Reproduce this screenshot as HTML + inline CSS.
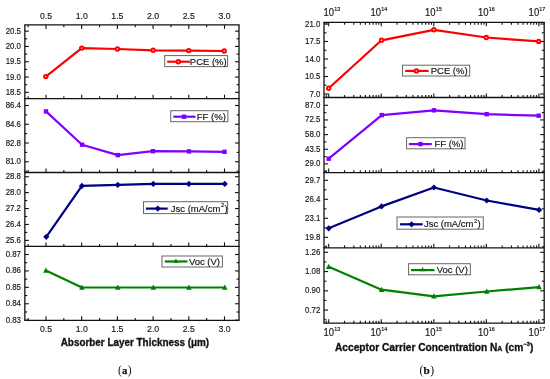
<!DOCTYPE html>
<html><head><meta charset="utf-8"><title>Figure</title>
<style>
html,body{margin:0;padding:0;background:#fff;}
body{width:550px;height:379px;overflow:hidden;}
svg{display:block;filter:blur(0.3px);}
text{stroke:#111;stroke-width:0.15px;}
.serif{stroke:none;}
.ttl{stroke-width:0.3px;}
.serif tspan.b{stroke:#111;stroke-width:0.25px;}
</style></head>
<body>
<svg width="550" height="379" viewBox="0 0 550 379">
<rect width="550" height="379" fill="#fff"/>
<line x1="24.20" y1="24.90" x2="239.65" y2="24.90" stroke="#111" stroke-width="1.3"/>
<line x1="24.20" y1="98.70" x2="239.65" y2="98.70" stroke="#111" stroke-width="1.3"/>
<line x1="24.20" y1="172.50" x2="239.65" y2="172.50" stroke="#111" stroke-width="1.3"/>
<line x1="24.20" y1="246.40" x2="239.65" y2="246.40" stroke="#111" stroke-width="1.3"/>
<line x1="24.20" y1="320.30" x2="239.65" y2="320.30" stroke="#111" stroke-width="1.3"/>
<line x1="24.85" y1="24.90" x2="24.85" y2="320.30" stroke="#111" stroke-width="1.3"/>
<line x1="239.00" y1="24.90" x2="239.00" y2="320.30" stroke="#111" stroke-width="1.3"/>
<line x1="46.00" y1="24.90" x2="46.00" y2="28.90" stroke="#111" stroke-width="1.1"/>
<line x1="46.00" y1="98.70" x2="46.00" y2="94.70" stroke="#111" stroke-width="1.1"/>
<line x1="46.00" y1="172.50" x2="46.00" y2="168.50" stroke="#111" stroke-width="1.1"/>
<line x1="46.00" y1="246.40" x2="46.00" y2="242.40" stroke="#111" stroke-width="1.1"/>
<line x1="46.00" y1="320.30" x2="46.00" y2="316.30" stroke="#111" stroke-width="1.1"/>
<line x1="81.70" y1="24.90" x2="81.70" y2="28.90" stroke="#111" stroke-width="1.1"/>
<line x1="81.70" y1="98.70" x2="81.70" y2="94.70" stroke="#111" stroke-width="1.1"/>
<line x1="81.70" y1="172.50" x2="81.70" y2="168.50" stroke="#111" stroke-width="1.1"/>
<line x1="81.70" y1="246.40" x2="81.70" y2="242.40" stroke="#111" stroke-width="1.1"/>
<line x1="81.70" y1="320.30" x2="81.70" y2="316.30" stroke="#111" stroke-width="1.1"/>
<line x1="117.40" y1="24.90" x2="117.40" y2="28.90" stroke="#111" stroke-width="1.1"/>
<line x1="117.40" y1="98.70" x2="117.40" y2="94.70" stroke="#111" stroke-width="1.1"/>
<line x1="117.40" y1="172.50" x2="117.40" y2="168.50" stroke="#111" stroke-width="1.1"/>
<line x1="117.40" y1="246.40" x2="117.40" y2="242.40" stroke="#111" stroke-width="1.1"/>
<line x1="117.40" y1="320.30" x2="117.40" y2="316.30" stroke="#111" stroke-width="1.1"/>
<line x1="153.10" y1="24.90" x2="153.10" y2="28.90" stroke="#111" stroke-width="1.1"/>
<line x1="153.10" y1="98.70" x2="153.10" y2="94.70" stroke="#111" stroke-width="1.1"/>
<line x1="153.10" y1="172.50" x2="153.10" y2="168.50" stroke="#111" stroke-width="1.1"/>
<line x1="153.10" y1="246.40" x2="153.10" y2="242.40" stroke="#111" stroke-width="1.1"/>
<line x1="153.10" y1="320.30" x2="153.10" y2="316.30" stroke="#111" stroke-width="1.1"/>
<line x1="188.80" y1="24.90" x2="188.80" y2="28.90" stroke="#111" stroke-width="1.1"/>
<line x1="188.80" y1="98.70" x2="188.80" y2="94.70" stroke="#111" stroke-width="1.1"/>
<line x1="188.80" y1="172.50" x2="188.80" y2="168.50" stroke="#111" stroke-width="1.1"/>
<line x1="188.80" y1="246.40" x2="188.80" y2="242.40" stroke="#111" stroke-width="1.1"/>
<line x1="188.80" y1="320.30" x2="188.80" y2="316.30" stroke="#111" stroke-width="1.1"/>
<line x1="224.50" y1="24.90" x2="224.50" y2="28.90" stroke="#111" stroke-width="1.1"/>
<line x1="224.50" y1="98.70" x2="224.50" y2="94.70" stroke="#111" stroke-width="1.1"/>
<line x1="224.50" y1="172.50" x2="224.50" y2="168.50" stroke="#111" stroke-width="1.1"/>
<line x1="224.50" y1="246.40" x2="224.50" y2="242.40" stroke="#111" stroke-width="1.1"/>
<line x1="224.50" y1="320.30" x2="224.50" y2="316.30" stroke="#111" stroke-width="1.1"/>
<line x1="28.15" y1="24.90" x2="28.15" y2="27.30" stroke="#111" stroke-width="1.1"/>
<line x1="28.15" y1="98.70" x2="28.15" y2="96.30" stroke="#111" stroke-width="1.1"/>
<line x1="28.15" y1="172.50" x2="28.15" y2="170.10" stroke="#111" stroke-width="1.1"/>
<line x1="28.15" y1="246.40" x2="28.15" y2="244.00" stroke="#111" stroke-width="1.1"/>
<line x1="28.15" y1="320.30" x2="28.15" y2="317.90" stroke="#111" stroke-width="1.1"/>
<line x1="63.85" y1="24.90" x2="63.85" y2="27.30" stroke="#111" stroke-width="1.1"/>
<line x1="63.85" y1="98.70" x2="63.85" y2="96.30" stroke="#111" stroke-width="1.1"/>
<line x1="63.85" y1="172.50" x2="63.85" y2="170.10" stroke="#111" stroke-width="1.1"/>
<line x1="63.85" y1="246.40" x2="63.85" y2="244.00" stroke="#111" stroke-width="1.1"/>
<line x1="63.85" y1="320.30" x2="63.85" y2="317.90" stroke="#111" stroke-width="1.1"/>
<line x1="99.55" y1="24.90" x2="99.55" y2="27.30" stroke="#111" stroke-width="1.1"/>
<line x1="99.55" y1="98.70" x2="99.55" y2="96.30" stroke="#111" stroke-width="1.1"/>
<line x1="99.55" y1="172.50" x2="99.55" y2="170.10" stroke="#111" stroke-width="1.1"/>
<line x1="99.55" y1="246.40" x2="99.55" y2="244.00" stroke="#111" stroke-width="1.1"/>
<line x1="99.55" y1="320.30" x2="99.55" y2="317.90" stroke="#111" stroke-width="1.1"/>
<line x1="135.25" y1="24.90" x2="135.25" y2="27.30" stroke="#111" stroke-width="1.1"/>
<line x1="135.25" y1="98.70" x2="135.25" y2="96.30" stroke="#111" stroke-width="1.1"/>
<line x1="135.25" y1="172.50" x2="135.25" y2="170.10" stroke="#111" stroke-width="1.1"/>
<line x1="135.25" y1="246.40" x2="135.25" y2="244.00" stroke="#111" stroke-width="1.1"/>
<line x1="135.25" y1="320.30" x2="135.25" y2="317.90" stroke="#111" stroke-width="1.1"/>
<line x1="170.95" y1="24.90" x2="170.95" y2="27.30" stroke="#111" stroke-width="1.1"/>
<line x1="170.95" y1="98.70" x2="170.95" y2="96.30" stroke="#111" stroke-width="1.1"/>
<line x1="170.95" y1="172.50" x2="170.95" y2="170.10" stroke="#111" stroke-width="1.1"/>
<line x1="170.95" y1="246.40" x2="170.95" y2="244.00" stroke="#111" stroke-width="1.1"/>
<line x1="170.95" y1="320.30" x2="170.95" y2="317.90" stroke="#111" stroke-width="1.1"/>
<line x1="206.65" y1="24.90" x2="206.65" y2="27.30" stroke="#111" stroke-width="1.1"/>
<line x1="206.65" y1="98.70" x2="206.65" y2="96.30" stroke="#111" stroke-width="1.1"/>
<line x1="206.65" y1="172.50" x2="206.65" y2="170.10" stroke="#111" stroke-width="1.1"/>
<line x1="206.65" y1="246.40" x2="206.65" y2="244.00" stroke="#111" stroke-width="1.1"/>
<line x1="206.65" y1="320.30" x2="206.65" y2="317.90" stroke="#111" stroke-width="1.1"/>
<text x="46.00" y="19.10" font-size="8.7" text-anchor="middle" fill="#1a1a1a" font-weight="normal" font-family="'Liberation Sans', Arial, sans-serif">0.5</text>
<text x="46.00" y="331.60" font-size="8.7" text-anchor="middle" fill="#1a1a1a" font-weight="normal" font-family="'Liberation Sans', Arial, sans-serif">0.5</text>
<text x="81.70" y="19.10" font-size="8.7" text-anchor="middle" fill="#1a1a1a" font-weight="normal" font-family="'Liberation Sans', Arial, sans-serif">1.0</text>
<text x="81.70" y="331.60" font-size="8.7" text-anchor="middle" fill="#1a1a1a" font-weight="normal" font-family="'Liberation Sans', Arial, sans-serif">1.0</text>
<text x="117.40" y="19.10" font-size="8.7" text-anchor="middle" fill="#1a1a1a" font-weight="normal" font-family="'Liberation Sans', Arial, sans-serif">1.5</text>
<text x="117.40" y="331.60" font-size="8.7" text-anchor="middle" fill="#1a1a1a" font-weight="normal" font-family="'Liberation Sans', Arial, sans-serif">1.5</text>
<text x="153.10" y="19.10" font-size="8.7" text-anchor="middle" fill="#1a1a1a" font-weight="normal" font-family="'Liberation Sans', Arial, sans-serif">2.0</text>
<text x="153.10" y="331.60" font-size="8.7" text-anchor="middle" fill="#1a1a1a" font-weight="normal" font-family="'Liberation Sans', Arial, sans-serif">2.0</text>
<text x="188.80" y="19.10" font-size="8.7" text-anchor="middle" fill="#1a1a1a" font-weight="normal" font-family="'Liberation Sans', Arial, sans-serif">2.5</text>
<text x="188.80" y="331.60" font-size="8.7" text-anchor="middle" fill="#1a1a1a" font-weight="normal" font-family="'Liberation Sans', Arial, sans-serif">2.5</text>
<text x="224.50" y="19.10" font-size="8.7" text-anchor="middle" fill="#1a1a1a" font-weight="normal" font-family="'Liberation Sans', Arial, sans-serif">3.0</text>
<text x="224.50" y="331.60" font-size="8.7" text-anchor="middle" fill="#1a1a1a" font-weight="normal" font-family="'Liberation Sans', Arial, sans-serif">3.0</text>
<line x1="24.85" y1="92.35" x2="28.85" y2="92.35" stroke="#111" stroke-width="1.1"/>
<line x1="239.00" y1="92.35" x2="235.00" y2="92.35" stroke="#111" stroke-width="1.1"/>
<text transform="translate(21.00,94.90) scale(1,1.12)" font-size="7.9" text-anchor="end" fill="#1a1a1a" font-family="'Liberation Sans', Arial, sans-serif">18.5</text>
<line x1="24.85" y1="77.05" x2="28.85" y2="77.05" stroke="#111" stroke-width="1.1"/>
<line x1="239.00" y1="77.05" x2="235.00" y2="77.05" stroke="#111" stroke-width="1.1"/>
<text transform="translate(21.00,79.60) scale(1,1.12)" font-size="7.9" text-anchor="end" fill="#1a1a1a" font-family="'Liberation Sans', Arial, sans-serif">19.0</text>
<line x1="24.85" y1="61.75" x2="28.85" y2="61.75" stroke="#111" stroke-width="1.1"/>
<line x1="239.00" y1="61.75" x2="235.00" y2="61.75" stroke="#111" stroke-width="1.1"/>
<text transform="translate(21.00,64.30) scale(1,1.12)" font-size="7.9" text-anchor="end" fill="#1a1a1a" font-family="'Liberation Sans', Arial, sans-serif">19.5</text>
<line x1="24.85" y1="46.45" x2="28.85" y2="46.45" stroke="#111" stroke-width="1.1"/>
<line x1="239.00" y1="46.45" x2="235.00" y2="46.45" stroke="#111" stroke-width="1.1"/>
<text transform="translate(21.00,49.00) scale(1,1.12)" font-size="7.9" text-anchor="end" fill="#1a1a1a" font-family="'Liberation Sans', Arial, sans-serif">20.0</text>
<line x1="24.85" y1="31.15" x2="28.85" y2="31.15" stroke="#111" stroke-width="1.1"/>
<line x1="239.00" y1="31.15" x2="235.00" y2="31.15" stroke="#111" stroke-width="1.1"/>
<text transform="translate(21.00,33.70) scale(1,1.12)" font-size="7.9" text-anchor="end" fill="#1a1a1a" font-family="'Liberation Sans', Arial, sans-serif">20.5</text>
<line x1="24.85" y1="84.70" x2="27.25" y2="84.70" stroke="#111" stroke-width="1.1"/>
<line x1="239.00" y1="84.70" x2="236.60" y2="84.70" stroke="#111" stroke-width="1.1"/>
<line x1="24.85" y1="69.40" x2="27.25" y2="69.40" stroke="#111" stroke-width="1.1"/>
<line x1="239.00" y1="69.40" x2="236.60" y2="69.40" stroke="#111" stroke-width="1.1"/>
<line x1="24.85" y1="54.10" x2="27.25" y2="54.10" stroke="#111" stroke-width="1.1"/>
<line x1="239.00" y1="54.10" x2="236.60" y2="54.10" stroke="#111" stroke-width="1.1"/>
<line x1="24.85" y1="38.80" x2="27.25" y2="38.80" stroke="#111" stroke-width="1.1"/>
<line x1="239.00" y1="38.80" x2="236.60" y2="38.80" stroke="#111" stroke-width="1.1"/>
<line x1="24.85" y1="161.77" x2="28.85" y2="161.77" stroke="#111" stroke-width="1.1"/>
<line x1="239.00" y1="161.77" x2="235.00" y2="161.77" stroke="#111" stroke-width="1.1"/>
<text transform="translate(21.00,164.32) scale(1,1.12)" font-size="7.9" text-anchor="end" fill="#1a1a1a" font-family="'Liberation Sans', Arial, sans-serif">81.0</text>
<line x1="24.85" y1="143.01" x2="28.85" y2="143.01" stroke="#111" stroke-width="1.1"/>
<line x1="239.00" y1="143.01" x2="235.00" y2="143.01" stroke="#111" stroke-width="1.1"/>
<text transform="translate(21.00,145.56) scale(1,1.12)" font-size="7.9" text-anchor="end" fill="#1a1a1a" font-family="'Liberation Sans', Arial, sans-serif">82.8</text>
<line x1="24.85" y1="124.26" x2="28.85" y2="124.26" stroke="#111" stroke-width="1.1"/>
<line x1="239.00" y1="124.26" x2="235.00" y2="124.26" stroke="#111" stroke-width="1.1"/>
<text transform="translate(21.00,126.81) scale(1,1.12)" font-size="7.9" text-anchor="end" fill="#1a1a1a" font-family="'Liberation Sans', Arial, sans-serif">84.6</text>
<line x1="24.85" y1="105.50" x2="28.85" y2="105.50" stroke="#111" stroke-width="1.1"/>
<line x1="239.00" y1="105.50" x2="235.00" y2="105.50" stroke="#111" stroke-width="1.1"/>
<text transform="translate(21.00,108.05) scale(1,1.12)" font-size="7.9" text-anchor="end" fill="#1a1a1a" font-family="'Liberation Sans', Arial, sans-serif">86.4</text>
<line x1="24.85" y1="171.15" x2="27.25" y2="171.15" stroke="#111" stroke-width="1.1"/>
<line x1="239.00" y1="171.15" x2="236.60" y2="171.15" stroke="#111" stroke-width="1.1"/>
<line x1="24.85" y1="152.39" x2="27.25" y2="152.39" stroke="#111" stroke-width="1.1"/>
<line x1="239.00" y1="152.39" x2="236.60" y2="152.39" stroke="#111" stroke-width="1.1"/>
<line x1="24.85" y1="133.63" x2="27.25" y2="133.63" stroke="#111" stroke-width="1.1"/>
<line x1="239.00" y1="133.63" x2="236.60" y2="133.63" stroke="#111" stroke-width="1.1"/>
<line x1="24.85" y1="114.88" x2="27.25" y2="114.88" stroke="#111" stroke-width="1.1"/>
<line x1="239.00" y1="114.88" x2="236.60" y2="114.88" stroke="#111" stroke-width="1.1"/>
<line x1="24.85" y1="240.38" x2="28.85" y2="240.38" stroke="#111" stroke-width="1.1"/>
<line x1="239.00" y1="240.38" x2="235.00" y2="240.38" stroke="#111" stroke-width="1.1"/>
<text transform="translate(21.00,242.93) scale(1,1.12)" font-size="7.9" text-anchor="end" fill="#1a1a1a" font-family="'Liberation Sans', Arial, sans-serif">25.6</text>
<line x1="24.85" y1="224.46" x2="28.85" y2="224.46" stroke="#111" stroke-width="1.1"/>
<line x1="239.00" y1="224.46" x2="235.00" y2="224.46" stroke="#111" stroke-width="1.1"/>
<text transform="translate(21.00,227.01) scale(1,1.12)" font-size="7.9" text-anchor="end" fill="#1a1a1a" font-family="'Liberation Sans', Arial, sans-serif">26.4</text>
<line x1="24.85" y1="208.54" x2="28.85" y2="208.54" stroke="#111" stroke-width="1.1"/>
<line x1="239.00" y1="208.54" x2="235.00" y2="208.54" stroke="#111" stroke-width="1.1"/>
<text transform="translate(21.00,211.09) scale(1,1.12)" font-size="7.9" text-anchor="end" fill="#1a1a1a" font-family="'Liberation Sans', Arial, sans-serif">27.2</text>
<line x1="24.85" y1="192.62" x2="28.85" y2="192.62" stroke="#111" stroke-width="1.1"/>
<line x1="239.00" y1="192.62" x2="235.00" y2="192.62" stroke="#111" stroke-width="1.1"/>
<text transform="translate(21.00,195.17) scale(1,1.12)" font-size="7.9" text-anchor="end" fill="#1a1a1a" font-family="'Liberation Sans', Arial, sans-serif">28.0</text>
<line x1="24.85" y1="176.70" x2="28.85" y2="176.70" stroke="#111" stroke-width="1.1"/>
<line x1="239.00" y1="176.70" x2="235.00" y2="176.70" stroke="#111" stroke-width="1.1"/>
<text transform="translate(21.00,179.25) scale(1,1.12)" font-size="7.9" text-anchor="end" fill="#1a1a1a" font-family="'Liberation Sans', Arial, sans-serif">28.8</text>
<line x1="24.85" y1="232.42" x2="27.25" y2="232.42" stroke="#111" stroke-width="1.1"/>
<line x1="239.00" y1="232.42" x2="236.60" y2="232.42" stroke="#111" stroke-width="1.1"/>
<line x1="24.85" y1="216.50" x2="27.25" y2="216.50" stroke="#111" stroke-width="1.1"/>
<line x1="239.00" y1="216.50" x2="236.60" y2="216.50" stroke="#111" stroke-width="1.1"/>
<line x1="24.85" y1="200.58" x2="27.25" y2="200.58" stroke="#111" stroke-width="1.1"/>
<line x1="239.00" y1="200.58" x2="236.60" y2="200.58" stroke="#111" stroke-width="1.1"/>
<line x1="24.85" y1="184.66" x2="27.25" y2="184.66" stroke="#111" stroke-width="1.1"/>
<line x1="239.00" y1="184.66" x2="236.60" y2="184.66" stroke="#111" stroke-width="1.1"/>
<line x1="24.85" y1="320.18" x2="28.85" y2="320.18" stroke="#111" stroke-width="1.1"/>
<line x1="239.00" y1="320.18" x2="235.00" y2="320.18" stroke="#111" stroke-width="1.1"/>
<text transform="translate(21.00,322.73) scale(1,1.12)" font-size="7.9" text-anchor="end" fill="#1a1a1a" font-family="'Liberation Sans', Arial, sans-serif">0.83</text>
<line x1="24.85" y1="303.76" x2="28.85" y2="303.76" stroke="#111" stroke-width="1.1"/>
<line x1="239.00" y1="303.76" x2="235.00" y2="303.76" stroke="#111" stroke-width="1.1"/>
<text transform="translate(21.00,306.31) scale(1,1.12)" font-size="7.9" text-anchor="end" fill="#1a1a1a" font-family="'Liberation Sans', Arial, sans-serif">0.84</text>
<line x1="24.85" y1="287.34" x2="28.85" y2="287.34" stroke="#111" stroke-width="1.1"/>
<line x1="239.00" y1="287.34" x2="235.00" y2="287.34" stroke="#111" stroke-width="1.1"/>
<text transform="translate(21.00,289.89) scale(1,1.12)" font-size="7.9" text-anchor="end" fill="#1a1a1a" font-family="'Liberation Sans', Arial, sans-serif">0.85</text>
<line x1="24.85" y1="270.92" x2="28.85" y2="270.92" stroke="#111" stroke-width="1.1"/>
<line x1="239.00" y1="270.92" x2="235.00" y2="270.92" stroke="#111" stroke-width="1.1"/>
<text transform="translate(21.00,273.47) scale(1,1.12)" font-size="7.9" text-anchor="end" fill="#1a1a1a" font-family="'Liberation Sans', Arial, sans-serif">0.86</text>
<line x1="24.85" y1="254.50" x2="28.85" y2="254.50" stroke="#111" stroke-width="1.1"/>
<line x1="239.00" y1="254.50" x2="235.00" y2="254.50" stroke="#111" stroke-width="1.1"/>
<text transform="translate(21.00,257.05) scale(1,1.12)" font-size="7.9" text-anchor="end" fill="#1a1a1a" font-family="'Liberation Sans', Arial, sans-serif">0.87</text>
<line x1="24.85" y1="311.97" x2="27.25" y2="311.97" stroke="#111" stroke-width="1.1"/>
<line x1="239.00" y1="311.97" x2="236.60" y2="311.97" stroke="#111" stroke-width="1.1"/>
<line x1="24.85" y1="295.55" x2="27.25" y2="295.55" stroke="#111" stroke-width="1.1"/>
<line x1="239.00" y1="295.55" x2="236.60" y2="295.55" stroke="#111" stroke-width="1.1"/>
<line x1="24.85" y1="279.13" x2="27.25" y2="279.13" stroke="#111" stroke-width="1.1"/>
<line x1="239.00" y1="279.13" x2="236.60" y2="279.13" stroke="#111" stroke-width="1.1"/>
<line x1="24.85" y1="262.71" x2="27.25" y2="262.71" stroke="#111" stroke-width="1.1"/>
<line x1="239.00" y1="262.71" x2="236.60" y2="262.71" stroke="#111" stroke-width="1.1"/>
<line x1="323.35" y1="22.30" x2="544.85" y2="22.30" stroke="#111" stroke-width="1.3"/>
<line x1="323.35" y1="97.50" x2="544.85" y2="97.50" stroke="#111" stroke-width="1.3"/>
<line x1="323.35" y1="172.60" x2="544.85" y2="172.60" stroke="#111" stroke-width="1.3"/>
<line x1="323.35" y1="247.80" x2="544.85" y2="247.80" stroke="#111" stroke-width="1.3"/>
<line x1="323.35" y1="323.20" x2="544.85" y2="323.20" stroke="#111" stroke-width="1.3"/>
<line x1="324.00" y1="22.30" x2="324.00" y2="323.20" stroke="#111" stroke-width="1.3"/>
<line x1="544.20" y1="22.30" x2="544.20" y2="323.20" stroke="#111" stroke-width="1.3"/>
<line x1="328.70" y1="22.30" x2="328.70" y2="26.30" stroke="#111" stroke-width="1.1"/>
<line x1="328.70" y1="97.50" x2="328.70" y2="93.50" stroke="#111" stroke-width="1.1"/>
<line x1="328.70" y1="172.60" x2="328.70" y2="168.60" stroke="#111" stroke-width="1.1"/>
<line x1="328.70" y1="247.80" x2="328.70" y2="243.80" stroke="#111" stroke-width="1.1"/>
<line x1="328.70" y1="323.20" x2="328.70" y2="319.20" stroke="#111" stroke-width="1.1"/>
<line x1="381.25" y1="22.30" x2="381.25" y2="26.30" stroke="#111" stroke-width="1.1"/>
<line x1="381.25" y1="97.50" x2="381.25" y2="93.50" stroke="#111" stroke-width="1.1"/>
<line x1="381.25" y1="172.60" x2="381.25" y2="168.60" stroke="#111" stroke-width="1.1"/>
<line x1="381.25" y1="247.80" x2="381.25" y2="243.80" stroke="#111" stroke-width="1.1"/>
<line x1="381.25" y1="323.20" x2="381.25" y2="319.20" stroke="#111" stroke-width="1.1"/>
<line x1="433.80" y1="22.30" x2="433.80" y2="26.30" stroke="#111" stroke-width="1.1"/>
<line x1="433.80" y1="97.50" x2="433.80" y2="93.50" stroke="#111" stroke-width="1.1"/>
<line x1="433.80" y1="172.60" x2="433.80" y2="168.60" stroke="#111" stroke-width="1.1"/>
<line x1="433.80" y1="247.80" x2="433.80" y2="243.80" stroke="#111" stroke-width="1.1"/>
<line x1="433.80" y1="323.20" x2="433.80" y2="319.20" stroke="#111" stroke-width="1.1"/>
<line x1="486.35" y1="22.30" x2="486.35" y2="26.30" stroke="#111" stroke-width="1.1"/>
<line x1="486.35" y1="97.50" x2="486.35" y2="93.50" stroke="#111" stroke-width="1.1"/>
<line x1="486.35" y1="172.60" x2="486.35" y2="168.60" stroke="#111" stroke-width="1.1"/>
<line x1="486.35" y1="247.80" x2="486.35" y2="243.80" stroke="#111" stroke-width="1.1"/>
<line x1="486.35" y1="323.20" x2="486.35" y2="319.20" stroke="#111" stroke-width="1.1"/>
<line x1="538.90" y1="22.30" x2="538.90" y2="26.30" stroke="#111" stroke-width="1.1"/>
<line x1="538.90" y1="97.50" x2="538.90" y2="93.50" stroke="#111" stroke-width="1.1"/>
<line x1="538.90" y1="172.60" x2="538.90" y2="168.60" stroke="#111" stroke-width="1.1"/>
<line x1="538.90" y1="247.80" x2="538.90" y2="243.80" stroke="#111" stroke-width="1.1"/>
<line x1="538.90" y1="323.20" x2="538.90" y2="319.20" stroke="#111" stroke-width="1.1"/>
<line x1="326.30" y1="22.30" x2="326.30" y2="24.70" stroke="#111" stroke-width="1.1"/>
<line x1="326.30" y1="97.50" x2="326.30" y2="95.10" stroke="#111" stroke-width="1.1"/>
<line x1="326.30" y1="172.60" x2="326.30" y2="170.20" stroke="#111" stroke-width="1.1"/>
<line x1="326.30" y1="247.80" x2="326.30" y2="245.40" stroke="#111" stroke-width="1.1"/>
<line x1="326.30" y1="323.20" x2="326.30" y2="320.80" stroke="#111" stroke-width="1.1"/>
<line x1="344.52" y1="22.30" x2="344.52" y2="24.70" stroke="#111" stroke-width="1.1"/>
<line x1="344.52" y1="97.50" x2="344.52" y2="95.10" stroke="#111" stroke-width="1.1"/>
<line x1="344.52" y1="172.60" x2="344.52" y2="170.20" stroke="#111" stroke-width="1.1"/>
<line x1="344.52" y1="247.80" x2="344.52" y2="245.40" stroke="#111" stroke-width="1.1"/>
<line x1="344.52" y1="323.20" x2="344.52" y2="320.80" stroke="#111" stroke-width="1.1"/>
<line x1="353.77" y1="22.30" x2="353.77" y2="24.70" stroke="#111" stroke-width="1.1"/>
<line x1="353.77" y1="97.50" x2="353.77" y2="95.10" stroke="#111" stroke-width="1.1"/>
<line x1="353.77" y1="172.60" x2="353.77" y2="170.20" stroke="#111" stroke-width="1.1"/>
<line x1="353.77" y1="247.80" x2="353.77" y2="245.40" stroke="#111" stroke-width="1.1"/>
<line x1="353.77" y1="323.20" x2="353.77" y2="320.80" stroke="#111" stroke-width="1.1"/>
<line x1="360.34" y1="22.30" x2="360.34" y2="24.70" stroke="#111" stroke-width="1.1"/>
<line x1="360.34" y1="97.50" x2="360.34" y2="95.10" stroke="#111" stroke-width="1.1"/>
<line x1="360.34" y1="172.60" x2="360.34" y2="170.20" stroke="#111" stroke-width="1.1"/>
<line x1="360.34" y1="247.80" x2="360.34" y2="245.40" stroke="#111" stroke-width="1.1"/>
<line x1="360.34" y1="323.20" x2="360.34" y2="320.80" stroke="#111" stroke-width="1.1"/>
<line x1="365.43" y1="22.30" x2="365.43" y2="24.70" stroke="#111" stroke-width="1.1"/>
<line x1="365.43" y1="97.50" x2="365.43" y2="95.10" stroke="#111" stroke-width="1.1"/>
<line x1="365.43" y1="172.60" x2="365.43" y2="170.20" stroke="#111" stroke-width="1.1"/>
<line x1="365.43" y1="247.80" x2="365.43" y2="245.40" stroke="#111" stroke-width="1.1"/>
<line x1="365.43" y1="323.20" x2="365.43" y2="320.80" stroke="#111" stroke-width="1.1"/>
<line x1="369.59" y1="22.30" x2="369.59" y2="24.70" stroke="#111" stroke-width="1.1"/>
<line x1="369.59" y1="97.50" x2="369.59" y2="95.10" stroke="#111" stroke-width="1.1"/>
<line x1="369.59" y1="172.60" x2="369.59" y2="170.20" stroke="#111" stroke-width="1.1"/>
<line x1="369.59" y1="247.80" x2="369.59" y2="245.40" stroke="#111" stroke-width="1.1"/>
<line x1="369.59" y1="323.20" x2="369.59" y2="320.80" stroke="#111" stroke-width="1.1"/>
<line x1="373.11" y1="22.30" x2="373.11" y2="24.70" stroke="#111" stroke-width="1.1"/>
<line x1="373.11" y1="97.50" x2="373.11" y2="95.10" stroke="#111" stroke-width="1.1"/>
<line x1="373.11" y1="172.60" x2="373.11" y2="170.20" stroke="#111" stroke-width="1.1"/>
<line x1="373.11" y1="247.80" x2="373.11" y2="245.40" stroke="#111" stroke-width="1.1"/>
<line x1="373.11" y1="323.20" x2="373.11" y2="320.80" stroke="#111" stroke-width="1.1"/>
<line x1="376.16" y1="22.30" x2="376.16" y2="24.70" stroke="#111" stroke-width="1.1"/>
<line x1="376.16" y1="97.50" x2="376.16" y2="95.10" stroke="#111" stroke-width="1.1"/>
<line x1="376.16" y1="172.60" x2="376.16" y2="170.20" stroke="#111" stroke-width="1.1"/>
<line x1="376.16" y1="247.80" x2="376.16" y2="245.40" stroke="#111" stroke-width="1.1"/>
<line x1="376.16" y1="323.20" x2="376.16" y2="320.80" stroke="#111" stroke-width="1.1"/>
<line x1="378.85" y1="22.30" x2="378.85" y2="24.70" stroke="#111" stroke-width="1.1"/>
<line x1="378.85" y1="97.50" x2="378.85" y2="95.10" stroke="#111" stroke-width="1.1"/>
<line x1="378.85" y1="172.60" x2="378.85" y2="170.20" stroke="#111" stroke-width="1.1"/>
<line x1="378.85" y1="247.80" x2="378.85" y2="245.40" stroke="#111" stroke-width="1.1"/>
<line x1="378.85" y1="323.20" x2="378.85" y2="320.80" stroke="#111" stroke-width="1.1"/>
<line x1="397.07" y1="22.30" x2="397.07" y2="24.70" stroke="#111" stroke-width="1.1"/>
<line x1="397.07" y1="97.50" x2="397.07" y2="95.10" stroke="#111" stroke-width="1.1"/>
<line x1="397.07" y1="172.60" x2="397.07" y2="170.20" stroke="#111" stroke-width="1.1"/>
<line x1="397.07" y1="247.80" x2="397.07" y2="245.40" stroke="#111" stroke-width="1.1"/>
<line x1="397.07" y1="323.20" x2="397.07" y2="320.80" stroke="#111" stroke-width="1.1"/>
<line x1="406.32" y1="22.30" x2="406.32" y2="24.70" stroke="#111" stroke-width="1.1"/>
<line x1="406.32" y1="97.50" x2="406.32" y2="95.10" stroke="#111" stroke-width="1.1"/>
<line x1="406.32" y1="172.60" x2="406.32" y2="170.20" stroke="#111" stroke-width="1.1"/>
<line x1="406.32" y1="247.80" x2="406.32" y2="245.40" stroke="#111" stroke-width="1.1"/>
<line x1="406.32" y1="323.20" x2="406.32" y2="320.80" stroke="#111" stroke-width="1.1"/>
<line x1="412.89" y1="22.30" x2="412.89" y2="24.70" stroke="#111" stroke-width="1.1"/>
<line x1="412.89" y1="97.50" x2="412.89" y2="95.10" stroke="#111" stroke-width="1.1"/>
<line x1="412.89" y1="172.60" x2="412.89" y2="170.20" stroke="#111" stroke-width="1.1"/>
<line x1="412.89" y1="247.80" x2="412.89" y2="245.40" stroke="#111" stroke-width="1.1"/>
<line x1="412.89" y1="323.20" x2="412.89" y2="320.80" stroke="#111" stroke-width="1.1"/>
<line x1="417.98" y1="22.30" x2="417.98" y2="24.70" stroke="#111" stroke-width="1.1"/>
<line x1="417.98" y1="97.50" x2="417.98" y2="95.10" stroke="#111" stroke-width="1.1"/>
<line x1="417.98" y1="172.60" x2="417.98" y2="170.20" stroke="#111" stroke-width="1.1"/>
<line x1="417.98" y1="247.80" x2="417.98" y2="245.40" stroke="#111" stroke-width="1.1"/>
<line x1="417.98" y1="323.20" x2="417.98" y2="320.80" stroke="#111" stroke-width="1.1"/>
<line x1="422.14" y1="22.30" x2="422.14" y2="24.70" stroke="#111" stroke-width="1.1"/>
<line x1="422.14" y1="97.50" x2="422.14" y2="95.10" stroke="#111" stroke-width="1.1"/>
<line x1="422.14" y1="172.60" x2="422.14" y2="170.20" stroke="#111" stroke-width="1.1"/>
<line x1="422.14" y1="247.80" x2="422.14" y2="245.40" stroke="#111" stroke-width="1.1"/>
<line x1="422.14" y1="323.20" x2="422.14" y2="320.80" stroke="#111" stroke-width="1.1"/>
<line x1="425.66" y1="22.30" x2="425.66" y2="24.70" stroke="#111" stroke-width="1.1"/>
<line x1="425.66" y1="97.50" x2="425.66" y2="95.10" stroke="#111" stroke-width="1.1"/>
<line x1="425.66" y1="172.60" x2="425.66" y2="170.20" stroke="#111" stroke-width="1.1"/>
<line x1="425.66" y1="247.80" x2="425.66" y2="245.40" stroke="#111" stroke-width="1.1"/>
<line x1="425.66" y1="323.20" x2="425.66" y2="320.80" stroke="#111" stroke-width="1.1"/>
<line x1="428.71" y1="22.30" x2="428.71" y2="24.70" stroke="#111" stroke-width="1.1"/>
<line x1="428.71" y1="97.50" x2="428.71" y2="95.10" stroke="#111" stroke-width="1.1"/>
<line x1="428.71" y1="172.60" x2="428.71" y2="170.20" stroke="#111" stroke-width="1.1"/>
<line x1="428.71" y1="247.80" x2="428.71" y2="245.40" stroke="#111" stroke-width="1.1"/>
<line x1="428.71" y1="323.20" x2="428.71" y2="320.80" stroke="#111" stroke-width="1.1"/>
<line x1="431.40" y1="22.30" x2="431.40" y2="24.70" stroke="#111" stroke-width="1.1"/>
<line x1="431.40" y1="97.50" x2="431.40" y2="95.10" stroke="#111" stroke-width="1.1"/>
<line x1="431.40" y1="172.60" x2="431.40" y2="170.20" stroke="#111" stroke-width="1.1"/>
<line x1="431.40" y1="247.80" x2="431.40" y2="245.40" stroke="#111" stroke-width="1.1"/>
<line x1="431.40" y1="323.20" x2="431.40" y2="320.80" stroke="#111" stroke-width="1.1"/>
<line x1="449.62" y1="22.30" x2="449.62" y2="24.70" stroke="#111" stroke-width="1.1"/>
<line x1="449.62" y1="97.50" x2="449.62" y2="95.10" stroke="#111" stroke-width="1.1"/>
<line x1="449.62" y1="172.60" x2="449.62" y2="170.20" stroke="#111" stroke-width="1.1"/>
<line x1="449.62" y1="247.80" x2="449.62" y2="245.40" stroke="#111" stroke-width="1.1"/>
<line x1="449.62" y1="323.20" x2="449.62" y2="320.80" stroke="#111" stroke-width="1.1"/>
<line x1="458.87" y1="22.30" x2="458.87" y2="24.70" stroke="#111" stroke-width="1.1"/>
<line x1="458.87" y1="97.50" x2="458.87" y2="95.10" stroke="#111" stroke-width="1.1"/>
<line x1="458.87" y1="172.60" x2="458.87" y2="170.20" stroke="#111" stroke-width="1.1"/>
<line x1="458.87" y1="247.80" x2="458.87" y2="245.40" stroke="#111" stroke-width="1.1"/>
<line x1="458.87" y1="323.20" x2="458.87" y2="320.80" stroke="#111" stroke-width="1.1"/>
<line x1="465.44" y1="22.30" x2="465.44" y2="24.70" stroke="#111" stroke-width="1.1"/>
<line x1="465.44" y1="97.50" x2="465.44" y2="95.10" stroke="#111" stroke-width="1.1"/>
<line x1="465.44" y1="172.60" x2="465.44" y2="170.20" stroke="#111" stroke-width="1.1"/>
<line x1="465.44" y1="247.80" x2="465.44" y2="245.40" stroke="#111" stroke-width="1.1"/>
<line x1="465.44" y1="323.20" x2="465.44" y2="320.80" stroke="#111" stroke-width="1.1"/>
<line x1="470.53" y1="22.30" x2="470.53" y2="24.70" stroke="#111" stroke-width="1.1"/>
<line x1="470.53" y1="97.50" x2="470.53" y2="95.10" stroke="#111" stroke-width="1.1"/>
<line x1="470.53" y1="172.60" x2="470.53" y2="170.20" stroke="#111" stroke-width="1.1"/>
<line x1="470.53" y1="247.80" x2="470.53" y2="245.40" stroke="#111" stroke-width="1.1"/>
<line x1="470.53" y1="323.20" x2="470.53" y2="320.80" stroke="#111" stroke-width="1.1"/>
<line x1="474.69" y1="22.30" x2="474.69" y2="24.70" stroke="#111" stroke-width="1.1"/>
<line x1="474.69" y1="97.50" x2="474.69" y2="95.10" stroke="#111" stroke-width="1.1"/>
<line x1="474.69" y1="172.60" x2="474.69" y2="170.20" stroke="#111" stroke-width="1.1"/>
<line x1="474.69" y1="247.80" x2="474.69" y2="245.40" stroke="#111" stroke-width="1.1"/>
<line x1="474.69" y1="323.20" x2="474.69" y2="320.80" stroke="#111" stroke-width="1.1"/>
<line x1="478.21" y1="22.30" x2="478.21" y2="24.70" stroke="#111" stroke-width="1.1"/>
<line x1="478.21" y1="97.50" x2="478.21" y2="95.10" stroke="#111" stroke-width="1.1"/>
<line x1="478.21" y1="172.60" x2="478.21" y2="170.20" stroke="#111" stroke-width="1.1"/>
<line x1="478.21" y1="247.80" x2="478.21" y2="245.40" stroke="#111" stroke-width="1.1"/>
<line x1="478.21" y1="323.20" x2="478.21" y2="320.80" stroke="#111" stroke-width="1.1"/>
<line x1="481.26" y1="22.30" x2="481.26" y2="24.70" stroke="#111" stroke-width="1.1"/>
<line x1="481.26" y1="97.50" x2="481.26" y2="95.10" stroke="#111" stroke-width="1.1"/>
<line x1="481.26" y1="172.60" x2="481.26" y2="170.20" stroke="#111" stroke-width="1.1"/>
<line x1="481.26" y1="247.80" x2="481.26" y2="245.40" stroke="#111" stroke-width="1.1"/>
<line x1="481.26" y1="323.20" x2="481.26" y2="320.80" stroke="#111" stroke-width="1.1"/>
<line x1="483.95" y1="22.30" x2="483.95" y2="24.70" stroke="#111" stroke-width="1.1"/>
<line x1="483.95" y1="97.50" x2="483.95" y2="95.10" stroke="#111" stroke-width="1.1"/>
<line x1="483.95" y1="172.60" x2="483.95" y2="170.20" stroke="#111" stroke-width="1.1"/>
<line x1="483.95" y1="247.80" x2="483.95" y2="245.40" stroke="#111" stroke-width="1.1"/>
<line x1="483.95" y1="323.20" x2="483.95" y2="320.80" stroke="#111" stroke-width="1.1"/>
<line x1="502.17" y1="22.30" x2="502.17" y2="24.70" stroke="#111" stroke-width="1.1"/>
<line x1="502.17" y1="97.50" x2="502.17" y2="95.10" stroke="#111" stroke-width="1.1"/>
<line x1="502.17" y1="172.60" x2="502.17" y2="170.20" stroke="#111" stroke-width="1.1"/>
<line x1="502.17" y1="247.80" x2="502.17" y2="245.40" stroke="#111" stroke-width="1.1"/>
<line x1="502.17" y1="323.20" x2="502.17" y2="320.80" stroke="#111" stroke-width="1.1"/>
<line x1="511.42" y1="22.30" x2="511.42" y2="24.70" stroke="#111" stroke-width="1.1"/>
<line x1="511.42" y1="97.50" x2="511.42" y2="95.10" stroke="#111" stroke-width="1.1"/>
<line x1="511.42" y1="172.60" x2="511.42" y2="170.20" stroke="#111" stroke-width="1.1"/>
<line x1="511.42" y1="247.80" x2="511.42" y2="245.40" stroke="#111" stroke-width="1.1"/>
<line x1="511.42" y1="323.20" x2="511.42" y2="320.80" stroke="#111" stroke-width="1.1"/>
<line x1="517.99" y1="22.30" x2="517.99" y2="24.70" stroke="#111" stroke-width="1.1"/>
<line x1="517.99" y1="97.50" x2="517.99" y2="95.10" stroke="#111" stroke-width="1.1"/>
<line x1="517.99" y1="172.60" x2="517.99" y2="170.20" stroke="#111" stroke-width="1.1"/>
<line x1="517.99" y1="247.80" x2="517.99" y2="245.40" stroke="#111" stroke-width="1.1"/>
<line x1="517.99" y1="323.20" x2="517.99" y2="320.80" stroke="#111" stroke-width="1.1"/>
<line x1="523.08" y1="22.30" x2="523.08" y2="24.70" stroke="#111" stroke-width="1.1"/>
<line x1="523.08" y1="97.50" x2="523.08" y2="95.10" stroke="#111" stroke-width="1.1"/>
<line x1="523.08" y1="172.60" x2="523.08" y2="170.20" stroke="#111" stroke-width="1.1"/>
<line x1="523.08" y1="247.80" x2="523.08" y2="245.40" stroke="#111" stroke-width="1.1"/>
<line x1="523.08" y1="323.20" x2="523.08" y2="320.80" stroke="#111" stroke-width="1.1"/>
<line x1="527.24" y1="22.30" x2="527.24" y2="24.70" stroke="#111" stroke-width="1.1"/>
<line x1="527.24" y1="97.50" x2="527.24" y2="95.10" stroke="#111" stroke-width="1.1"/>
<line x1="527.24" y1="172.60" x2="527.24" y2="170.20" stroke="#111" stroke-width="1.1"/>
<line x1="527.24" y1="247.80" x2="527.24" y2="245.40" stroke="#111" stroke-width="1.1"/>
<line x1="527.24" y1="323.20" x2="527.24" y2="320.80" stroke="#111" stroke-width="1.1"/>
<line x1="530.76" y1="22.30" x2="530.76" y2="24.70" stroke="#111" stroke-width="1.1"/>
<line x1="530.76" y1="97.50" x2="530.76" y2="95.10" stroke="#111" stroke-width="1.1"/>
<line x1="530.76" y1="172.60" x2="530.76" y2="170.20" stroke="#111" stroke-width="1.1"/>
<line x1="530.76" y1="247.80" x2="530.76" y2="245.40" stroke="#111" stroke-width="1.1"/>
<line x1="530.76" y1="323.20" x2="530.76" y2="320.80" stroke="#111" stroke-width="1.1"/>
<line x1="533.81" y1="22.30" x2="533.81" y2="24.70" stroke="#111" stroke-width="1.1"/>
<line x1="533.81" y1="97.50" x2="533.81" y2="95.10" stroke="#111" stroke-width="1.1"/>
<line x1="533.81" y1="172.60" x2="533.81" y2="170.20" stroke="#111" stroke-width="1.1"/>
<line x1="533.81" y1="247.80" x2="533.81" y2="245.40" stroke="#111" stroke-width="1.1"/>
<line x1="533.81" y1="323.20" x2="533.81" y2="320.80" stroke="#111" stroke-width="1.1"/>
<line x1="536.50" y1="22.30" x2="536.50" y2="24.70" stroke="#111" stroke-width="1.1"/>
<line x1="536.50" y1="97.50" x2="536.50" y2="95.10" stroke="#111" stroke-width="1.1"/>
<line x1="536.50" y1="172.60" x2="536.50" y2="170.20" stroke="#111" stroke-width="1.1"/>
<line x1="536.50" y1="247.80" x2="536.50" y2="245.40" stroke="#111" stroke-width="1.1"/>
<line x1="536.50" y1="323.20" x2="536.50" y2="320.80" stroke="#111" stroke-width="1.1"/>
<text transform="translate(323.50,16.3) scale(1,1.08)" font-size="9.5" fill="#1a1a1a" font-family="'Liberation Sans', Arial, sans-serif">10<tspan font-size="5.4" dy="-4.5" dx="0.2">13</tspan></text>
<text transform="translate(323.50,335.9) scale(1,1.08)" font-size="9.5" fill="#1a1a1a" font-family="'Liberation Sans', Arial, sans-serif">10<tspan font-size="5.4" dy="-4.5" dx="0.2">13</tspan></text>
<text transform="translate(370.50,16.3) scale(1,1.08)" font-size="9.5" fill="#1a1a1a" font-family="'Liberation Sans', Arial, sans-serif">10<tspan font-size="5.4" dy="-4.5" dx="0.2">14</tspan></text>
<text transform="translate(370.50,335.9) scale(1,1.08)" font-size="9.5" fill="#1a1a1a" font-family="'Liberation Sans', Arial, sans-serif">10<tspan font-size="5.4" dy="-4.5" dx="0.2">14</tspan></text>
<text transform="translate(424.90,16.3) scale(1,1.08)" font-size="9.5" fill="#1a1a1a" font-family="'Liberation Sans', Arial, sans-serif">10<tspan font-size="5.4" dy="-4.5" dx="0.2">15</tspan></text>
<text transform="translate(424.90,335.9) scale(1,1.08)" font-size="9.5" fill="#1a1a1a" font-family="'Liberation Sans', Arial, sans-serif">10<tspan font-size="5.4" dy="-4.5" dx="0.2">15</tspan></text>
<text transform="translate(477.90,16.3) scale(1,1.08)" font-size="9.5" fill="#1a1a1a" font-family="'Liberation Sans', Arial, sans-serif">10<tspan font-size="5.4" dy="-4.5" dx="0.2">16</tspan></text>
<text transform="translate(477.90,335.9) scale(1,1.08)" font-size="9.5" fill="#1a1a1a" font-family="'Liberation Sans', Arial, sans-serif">10<tspan font-size="5.4" dy="-4.5" dx="0.2">16</tspan></text>
<text transform="translate(528.60,16.3) scale(1,1.08)" font-size="9.5" fill="#1a1a1a" font-family="'Liberation Sans', Arial, sans-serif">10<tspan font-size="5.4" dy="-4.5" dx="0.2">17</tspan></text>
<text transform="translate(528.60,335.9) scale(1,1.08)" font-size="9.5" fill="#1a1a1a" font-family="'Liberation Sans', Arial, sans-serif">10<tspan font-size="5.4" dy="-4.5" dx="0.2">17</tspan></text>
<line x1="324.00" y1="94.00" x2="328.00" y2="94.00" stroke="#111" stroke-width="1.1"/>
<line x1="544.20" y1="94.00" x2="540.20" y2="94.00" stroke="#111" stroke-width="1.1"/>
<text transform="translate(320.40,96.55) scale(1,1.12)" font-size="7.9" text-anchor="end" fill="#1a1a1a" font-family="'Liberation Sans', Arial, sans-serif">7.0</text>
<line x1="324.00" y1="76.50" x2="328.00" y2="76.50" stroke="#111" stroke-width="1.1"/>
<line x1="544.20" y1="76.50" x2="540.20" y2="76.50" stroke="#111" stroke-width="1.1"/>
<text transform="translate(320.40,79.05) scale(1,1.12)" font-size="7.9" text-anchor="end" fill="#1a1a1a" font-family="'Liberation Sans', Arial, sans-serif">10.5</text>
<line x1="324.00" y1="59.00" x2="328.00" y2="59.00" stroke="#111" stroke-width="1.1"/>
<line x1="544.20" y1="59.00" x2="540.20" y2="59.00" stroke="#111" stroke-width="1.1"/>
<text transform="translate(320.40,61.55) scale(1,1.12)" font-size="7.9" text-anchor="end" fill="#1a1a1a" font-family="'Liberation Sans', Arial, sans-serif">14.0</text>
<line x1="324.00" y1="41.50" x2="328.00" y2="41.50" stroke="#111" stroke-width="1.1"/>
<line x1="544.20" y1="41.50" x2="540.20" y2="41.50" stroke="#111" stroke-width="1.1"/>
<text transform="translate(320.40,44.05) scale(1,1.12)" font-size="7.9" text-anchor="end" fill="#1a1a1a" font-family="'Liberation Sans', Arial, sans-serif">17.5</text>
<line x1="324.00" y1="24.00" x2="328.00" y2="24.00" stroke="#111" stroke-width="1.1"/>
<line x1="544.20" y1="24.00" x2="540.20" y2="24.00" stroke="#111" stroke-width="1.1"/>
<text transform="translate(320.40,26.55) scale(1,1.12)" font-size="7.9" text-anchor="end" fill="#1a1a1a" font-family="'Liberation Sans', Arial, sans-serif">21.0</text>
<line x1="324.00" y1="85.25" x2="326.40" y2="85.25" stroke="#111" stroke-width="1.1"/>
<line x1="544.20" y1="85.25" x2="541.80" y2="85.25" stroke="#111" stroke-width="1.1"/>
<line x1="324.00" y1="67.75" x2="326.40" y2="67.75" stroke="#111" stroke-width="1.1"/>
<line x1="544.20" y1="67.75" x2="541.80" y2="67.75" stroke="#111" stroke-width="1.1"/>
<line x1="324.00" y1="50.25" x2="326.40" y2="50.25" stroke="#111" stroke-width="1.1"/>
<line x1="544.20" y1="50.25" x2="541.80" y2="50.25" stroke="#111" stroke-width="1.1"/>
<line x1="324.00" y1="32.75" x2="326.40" y2="32.75" stroke="#111" stroke-width="1.1"/>
<line x1="544.20" y1="32.75" x2="541.80" y2="32.75" stroke="#111" stroke-width="1.1"/>
<line x1="324.00" y1="163.88" x2="328.00" y2="163.88" stroke="#111" stroke-width="1.1"/>
<line x1="544.20" y1="163.88" x2="540.20" y2="163.88" stroke="#111" stroke-width="1.1"/>
<text transform="translate(320.40,166.43) scale(1,1.12)" font-size="7.9" text-anchor="end" fill="#1a1a1a" font-family="'Liberation Sans', Arial, sans-serif">29.0</text>
<line x1="324.00" y1="149.24" x2="328.00" y2="149.24" stroke="#111" stroke-width="1.1"/>
<line x1="544.20" y1="149.24" x2="540.20" y2="149.24" stroke="#111" stroke-width="1.1"/>
<text transform="translate(320.40,151.79) scale(1,1.12)" font-size="7.9" text-anchor="end" fill="#1a1a1a" font-family="'Liberation Sans', Arial, sans-serif">43.5</text>
<line x1="324.00" y1="134.59" x2="328.00" y2="134.59" stroke="#111" stroke-width="1.1"/>
<line x1="544.20" y1="134.59" x2="540.20" y2="134.59" stroke="#111" stroke-width="1.1"/>
<text transform="translate(320.40,137.14) scale(1,1.12)" font-size="7.9" text-anchor="end" fill="#1a1a1a" font-family="'Liberation Sans', Arial, sans-serif">58.0</text>
<line x1="324.00" y1="119.94" x2="328.00" y2="119.94" stroke="#111" stroke-width="1.1"/>
<line x1="544.20" y1="119.94" x2="540.20" y2="119.94" stroke="#111" stroke-width="1.1"/>
<text transform="translate(320.40,122.49) scale(1,1.12)" font-size="7.9" text-anchor="end" fill="#1a1a1a" font-family="'Liberation Sans', Arial, sans-serif">72.5</text>
<line x1="324.00" y1="105.30" x2="328.00" y2="105.30" stroke="#111" stroke-width="1.1"/>
<line x1="544.20" y1="105.30" x2="540.20" y2="105.30" stroke="#111" stroke-width="1.1"/>
<text transform="translate(320.40,107.85) scale(1,1.12)" font-size="7.9" text-anchor="end" fill="#1a1a1a" font-family="'Liberation Sans', Arial, sans-serif">87.0</text>
<line x1="324.00" y1="171.20" x2="326.40" y2="171.20" stroke="#111" stroke-width="1.1"/>
<line x1="544.20" y1="171.20" x2="541.80" y2="171.20" stroke="#111" stroke-width="1.1"/>
<line x1="324.00" y1="156.56" x2="326.40" y2="156.56" stroke="#111" stroke-width="1.1"/>
<line x1="544.20" y1="156.56" x2="541.80" y2="156.56" stroke="#111" stroke-width="1.1"/>
<line x1="324.00" y1="141.91" x2="326.40" y2="141.91" stroke="#111" stroke-width="1.1"/>
<line x1="544.20" y1="141.91" x2="541.80" y2="141.91" stroke="#111" stroke-width="1.1"/>
<line x1="324.00" y1="127.27" x2="326.40" y2="127.27" stroke="#111" stroke-width="1.1"/>
<line x1="544.20" y1="127.27" x2="541.80" y2="127.27" stroke="#111" stroke-width="1.1"/>
<line x1="324.00" y1="112.62" x2="326.40" y2="112.62" stroke="#111" stroke-width="1.1"/>
<line x1="544.20" y1="112.62" x2="541.80" y2="112.62" stroke="#111" stroke-width="1.1"/>
<line x1="324.00" y1="237.32" x2="328.00" y2="237.32" stroke="#111" stroke-width="1.1"/>
<line x1="544.20" y1="237.32" x2="540.20" y2="237.32" stroke="#111" stroke-width="1.1"/>
<text transform="translate(320.40,239.87) scale(1,1.12)" font-size="7.9" text-anchor="end" fill="#1a1a1a" font-family="'Liberation Sans', Arial, sans-serif">19.8</text>
<line x1="324.00" y1="218.32" x2="328.00" y2="218.32" stroke="#111" stroke-width="1.1"/>
<line x1="544.20" y1="218.32" x2="540.20" y2="218.32" stroke="#111" stroke-width="1.1"/>
<text transform="translate(320.40,220.87) scale(1,1.12)" font-size="7.9" text-anchor="end" fill="#1a1a1a" font-family="'Liberation Sans', Arial, sans-serif">23.1</text>
<line x1="324.00" y1="199.31" x2="328.00" y2="199.31" stroke="#111" stroke-width="1.1"/>
<line x1="544.20" y1="199.31" x2="540.20" y2="199.31" stroke="#111" stroke-width="1.1"/>
<text transform="translate(320.40,201.86) scale(1,1.12)" font-size="7.9" text-anchor="end" fill="#1a1a1a" font-family="'Liberation Sans', Arial, sans-serif">26.4</text>
<line x1="324.00" y1="180.30" x2="328.00" y2="180.30" stroke="#111" stroke-width="1.1"/>
<line x1="544.20" y1="180.30" x2="540.20" y2="180.30" stroke="#111" stroke-width="1.1"/>
<text transform="translate(320.40,182.85) scale(1,1.12)" font-size="7.9" text-anchor="end" fill="#1a1a1a" font-family="'Liberation Sans', Arial, sans-serif">29.7</text>
<line x1="324.00" y1="246.83" x2="326.40" y2="246.83" stroke="#111" stroke-width="1.1"/>
<line x1="544.20" y1="246.83" x2="541.80" y2="246.83" stroke="#111" stroke-width="1.1"/>
<line x1="324.00" y1="227.82" x2="326.40" y2="227.82" stroke="#111" stroke-width="1.1"/>
<line x1="544.20" y1="227.82" x2="541.80" y2="227.82" stroke="#111" stroke-width="1.1"/>
<line x1="324.00" y1="208.81" x2="326.40" y2="208.81" stroke="#111" stroke-width="1.1"/>
<line x1="544.20" y1="208.81" x2="541.80" y2="208.81" stroke="#111" stroke-width="1.1"/>
<line x1="324.00" y1="189.80" x2="326.40" y2="189.80" stroke="#111" stroke-width="1.1"/>
<line x1="544.20" y1="189.80" x2="541.80" y2="189.80" stroke="#111" stroke-width="1.1"/>
<line x1="324.00" y1="310.08" x2="328.00" y2="310.08" stroke="#111" stroke-width="1.1"/>
<line x1="544.20" y1="310.08" x2="540.20" y2="310.08" stroke="#111" stroke-width="1.1"/>
<text transform="translate(320.40,312.63) scale(1,1.12)" font-size="7.9" text-anchor="end" fill="#1a1a1a" font-family="'Liberation Sans', Arial, sans-serif">0.72</text>
<line x1="324.00" y1="290.82" x2="328.00" y2="290.82" stroke="#111" stroke-width="1.1"/>
<line x1="544.20" y1="290.82" x2="540.20" y2="290.82" stroke="#111" stroke-width="1.1"/>
<text transform="translate(320.40,293.37) scale(1,1.12)" font-size="7.9" text-anchor="end" fill="#1a1a1a" font-family="'Liberation Sans', Arial, sans-serif">0.90</text>
<line x1="324.00" y1="271.56" x2="328.00" y2="271.56" stroke="#111" stroke-width="1.1"/>
<line x1="544.20" y1="271.56" x2="540.20" y2="271.56" stroke="#111" stroke-width="1.1"/>
<text transform="translate(320.40,274.11) scale(1,1.12)" font-size="7.9" text-anchor="end" fill="#1a1a1a" font-family="'Liberation Sans', Arial, sans-serif">1.08</text>
<line x1="324.00" y1="252.30" x2="328.00" y2="252.30" stroke="#111" stroke-width="1.1"/>
<line x1="544.20" y1="252.30" x2="540.20" y2="252.30" stroke="#111" stroke-width="1.1"/>
<text transform="translate(320.40,254.85) scale(1,1.12)" font-size="7.9" text-anchor="end" fill="#1a1a1a" font-family="'Liberation Sans', Arial, sans-serif">1.26</text>
<line x1="324.00" y1="319.71" x2="326.40" y2="319.71" stroke="#111" stroke-width="1.1"/>
<line x1="544.20" y1="319.71" x2="541.80" y2="319.71" stroke="#111" stroke-width="1.1"/>
<line x1="324.00" y1="300.45" x2="326.40" y2="300.45" stroke="#111" stroke-width="1.1"/>
<line x1="544.20" y1="300.45" x2="541.80" y2="300.45" stroke="#111" stroke-width="1.1"/>
<line x1="324.00" y1="281.19" x2="326.40" y2="281.19" stroke="#111" stroke-width="1.1"/>
<line x1="544.20" y1="281.19" x2="541.80" y2="281.19" stroke="#111" stroke-width="1.1"/>
<line x1="324.00" y1="261.93" x2="326.40" y2="261.93" stroke="#111" stroke-width="1.1"/>
<line x1="544.20" y1="261.93" x2="541.80" y2="261.93" stroke="#111" stroke-width="1.1"/>
<polyline points="45.80,76.60 81.70,48.10 117.40,49.00 153.10,50.30 188.70,50.60 224.20,51.00" fill="none" stroke="#ff0000" stroke-width="2.2" stroke-linejoin="round"/>
<circle cx="45.80" cy="76.60" r="1.7" fill="#fff" stroke="#ff0000" stroke-width="2.0"/>
<circle cx="81.70" cy="48.10" r="1.7" fill="#fff" stroke="#ff0000" stroke-width="2.0"/>
<circle cx="117.40" cy="49.00" r="1.7" fill="#fff" stroke="#ff0000" stroke-width="2.0"/>
<circle cx="153.10" cy="50.30" r="1.7" fill="#fff" stroke="#ff0000" stroke-width="2.0"/>
<circle cx="188.70" cy="50.60" r="1.7" fill="#fff" stroke="#ff0000" stroke-width="2.0"/>
<circle cx="224.20" cy="51.00" r="1.7" fill="#fff" stroke="#ff0000" stroke-width="2.0"/>
<polyline points="46.00,111.40 82.10,144.70 117.80,155.10 152.90,151.20 189.00,151.40 224.50,151.80" fill="none" stroke="#8000ff" stroke-width="2.2" stroke-linejoin="round"/>
<rect x="43.80" y="109.20" width="4.4" height="4.4" fill="#8000ff"/>
<rect x="79.90" y="142.50" width="4.4" height="4.4" fill="#8000ff"/>
<rect x="115.60" y="152.90" width="4.4" height="4.4" fill="#8000ff"/>
<rect x="150.70" y="149.00" width="4.4" height="4.4" fill="#8000ff"/>
<rect x="186.80" y="149.20" width="4.4" height="4.4" fill="#8000ff"/>
<rect x="222.30" y="149.60" width="4.4" height="4.4" fill="#8000ff"/>
<polyline points="46.30,236.80 81.90,185.90 117.80,184.90 153.30,183.90 188.90,183.90 224.80,183.90" fill="none" stroke="#000080" stroke-width="2.2" stroke-linejoin="round"/>
<polygon points="46.30,233.70 49.40,236.80 46.30,239.90 43.20,236.80" fill="#000080"/>
<polygon points="81.90,182.80 85.00,185.90 81.90,189.00 78.80,185.90" fill="#000080"/>
<polygon points="117.80,181.80 120.90,184.90 117.80,188.00 114.70,184.90" fill="#000080"/>
<polygon points="153.30,180.80 156.40,183.90 153.30,187.00 150.20,183.90" fill="#000080"/>
<polygon points="188.90,180.80 192.00,183.90 188.90,187.00 185.80,183.90" fill="#000080"/>
<polygon points="224.80,180.80 227.90,183.90 224.80,187.00 221.70,183.90" fill="#000080"/>
<polyline points="45.90,270.60 81.90,287.50 117.80,287.50 153.30,287.50 188.90,287.50 224.80,287.50" fill="none" stroke="#008000" stroke-width="2.2" stroke-linejoin="round"/>
<polygon points="45.90,267.60 48.70,272.80 43.10,272.80" fill="#008000"/>
<polygon points="81.90,284.50 84.70,289.70 79.10,289.70" fill="#008000"/>
<polygon points="117.80,284.50 120.60,289.70 115.00,289.70" fill="#008000"/>
<polygon points="153.30,284.50 156.10,289.70 150.50,289.70" fill="#008000"/>
<polygon points="188.90,284.50 191.70,289.70 186.10,289.70" fill="#008000"/>
<polygon points="224.80,284.50 227.60,289.70 222.00,289.70" fill="#008000"/>
<polyline points="328.70,88.30 381.50,40.30 433.90,29.80 486.30,37.50 538.70,41.40" fill="none" stroke="#ff0000" stroke-width="2.2" stroke-linejoin="round"/>
<circle cx="328.70" cy="88.30" r="1.7" fill="#fff" stroke="#ff0000" stroke-width="2.0"/>
<circle cx="381.50" cy="40.30" r="1.7" fill="#fff" stroke="#ff0000" stroke-width="2.0"/>
<circle cx="433.90" cy="29.80" r="1.7" fill="#fff" stroke="#ff0000" stroke-width="2.0"/>
<circle cx="486.30" cy="37.50" r="1.7" fill="#fff" stroke="#ff0000" stroke-width="2.0"/>
<circle cx="538.70" cy="41.40" r="1.7" fill="#fff" stroke="#ff0000" stroke-width="2.0"/>
<polyline points="328.70,158.70 381.80,115.10 433.90,110.30 486.70,114.20 538.70,115.70" fill="none" stroke="#8000ff" stroke-width="2.2" stroke-linejoin="round"/>
<rect x="326.50" y="156.50" width="4.4" height="4.4" fill="#8000ff"/>
<rect x="379.60" y="112.90" width="4.4" height="4.4" fill="#8000ff"/>
<rect x="431.70" y="108.10" width="4.4" height="4.4" fill="#8000ff"/>
<rect x="484.50" y="112.00" width="4.4" height="4.4" fill="#8000ff"/>
<rect x="536.50" y="113.50" width="4.4" height="4.4" fill="#8000ff"/>
<polyline points="328.70,228.30 381.50,206.40 433.90,187.50 486.70,200.50 539.10,209.90" fill="none" stroke="#000080" stroke-width="2.2" stroke-linejoin="round"/>
<polygon points="328.70,225.20 331.80,228.30 328.70,231.40 325.60,228.30" fill="#000080"/>
<polygon points="381.50,203.30 384.60,206.40 381.50,209.50 378.40,206.40" fill="#000080"/>
<polygon points="433.90,184.40 437.00,187.50 433.90,190.60 430.80,187.50" fill="#000080"/>
<polygon points="486.70,197.40 489.80,200.50 486.70,203.60 483.60,200.50" fill="#000080"/>
<polygon points="539.10,206.80 542.20,209.90 539.10,213.00 536.00,209.90" fill="#000080"/>
<polyline points="328.70,266.80 381.50,289.70 433.90,296.30 486.70,291.50 539.10,287.10" fill="none" stroke="#008000" stroke-width="2.2" stroke-linejoin="round"/>
<polygon points="328.70,263.80 331.50,269.00 325.90,269.00" fill="#008000"/>
<polygon points="381.50,286.70 384.30,291.90 378.70,291.90" fill="#008000"/>
<polygon points="433.90,293.30 436.70,298.50 431.10,298.50" fill="#008000"/>
<polygon points="486.70,288.50 489.50,293.70 483.90,293.70" fill="#008000"/>
<polygon points="539.10,284.10 541.90,289.30 536.30,289.30" fill="#008000"/>
<rect x="164.70" y="55.60" width="62.90" height="11.00" fill="#fff" stroke="#666" stroke-width="1"/>
<line x1="167.20" y1="61.70" x2="189.80" y2="61.70" stroke="#ff0000" stroke-width="2.2"/>
<circle cx="178.30" cy="61.70" r="1.7" fill="#fff" stroke="#ff0000" stroke-width="2.0"/>
<text transform="translate(189.80,64.80) scale(1,1.05)" font-size="9.5" fill="#111" font-family="'Liberation Sans', Arial, sans-serif">PCE (%)</text>
<rect x="170.70" y="110.70" width="57.20" height="11.00" fill="#fff" stroke="#666" stroke-width="1"/>
<line x1="173.30" y1="116.70" x2="195.50" y2="116.70" stroke="#8000ff" stroke-width="2.2"/>
<rect x="181.80" y="114.50" width="4.4" height="4.4" fill="#8000ff"/>
<text transform="translate(196.80,119.80) scale(1,1.05)" font-size="9.5" fill="#111" font-family="'Liberation Sans', Arial, sans-serif">FF (%)</text>
<rect x="143.50" y="201.70" width="84.10" height="11.90" fill="#fff" stroke="#666" stroke-width="1"/>
<line x1="145.90" y1="208.60" x2="167.70" y2="208.60" stroke="#000080" stroke-width="2.2"/>
<polygon points="157.80,205.50 160.90,208.60 157.80,211.70 154.70,208.60" fill="#000080"/>
<text transform="translate(170.80,211.70) scale(1,1.05)" font-size="9.5" fill="#111" font-family="'Liberation Sans', Arial, sans-serif">Jsc (mA/cm<tspan font-size="5.8" dy="-4.4" dx="0.5">2</tspan><tspan dy="4.4" dx="0.3">)</tspan></text>
<rect x="162.00" y="256.00" width="60.40" height="11.00" fill="#fff" stroke="#666" stroke-width="1"/>
<line x1="164.80" y1="261.50" x2="187.50" y2="261.50" stroke="#008000" stroke-width="2.2"/>
<polygon points="175.90,258.50 178.40,262.70 173.40,262.70" fill="#008000"/>
<text transform="translate(188.90,264.60) scale(1,1.05)" font-size="9.5" fill="#111" font-family="'Liberation Sans', Arial, sans-serif">Voc (V)</text>
<rect x="402.50" y="65.20" width="67.20" height="10.80" fill="#fff" stroke="#666" stroke-width="1"/>
<line x1="405.20" y1="70.90" x2="428.60" y2="70.90" stroke="#ff0000" stroke-width="2.2"/>
<circle cx="416.40" cy="70.90" r="1.7" fill="#fff" stroke="#ff0000" stroke-width="2.0"/>
<text transform="translate(430.70,74.00) scale(1,1.05)" font-size="9.5" fill="#111" font-family="'Liberation Sans', Arial, sans-serif">PCE (%)</text>
<rect x="406.60" y="137.70" width="58.40" height="11.10" fill="#fff" stroke="#666" stroke-width="1"/>
<line x1="408.90" y1="144.10" x2="431.80" y2="144.10" stroke="#8000ff" stroke-width="2.2"/>
<rect x="418.20" y="141.90" width="4.4" height="4.4" fill="#8000ff"/>
<text transform="translate(434.40,147.20) scale(1,1.05)" font-size="9.5" fill="#111" font-family="'Liberation Sans', Arial, sans-serif">FF (%)</text>
<rect x="397.00" y="217.00" width="86.30" height="12.20" fill="#fff" stroke="#666" stroke-width="1"/>
<line x1="400.00" y1="224.30" x2="422.70" y2="224.30" stroke="#000080" stroke-width="2.2"/>
<polygon points="411.60,221.20 414.70,224.30 411.60,227.40 408.50,224.30" fill="#000080"/>
<text transform="translate(423.90,227.40) scale(1,1.05)" font-size="9.5" fill="#111" font-family="'Liberation Sans', Arial, sans-serif">Jsc (mA/cm<tspan font-size="5.8" dy="-4.4" dx="0.5">2</tspan><tspan dy="4.4" dx="0.3">)</tspan></text>
<rect x="408.60" y="263.70" width="61.70" height="11.10" fill="#fff" stroke="#666" stroke-width="1"/>
<line x1="411.00" y1="270.10" x2="434.50" y2="270.10" stroke="#008000" stroke-width="2.2"/>
<polygon points="422.50,267.10 425.00,271.30 420.00,271.30" fill="#008000"/>
<text transform="translate(436.70,273.20) scale(1,1.05)" font-size="9.5" fill="#111" font-family="'Liberation Sans', Arial, sans-serif">Voc (V)</text>
<text class="ttl" transform="translate(60.7,346.2) scale(1,1.05)" font-size="9.9" font-weight="bold" fill="#111" font-family="'Liberation Sans', Arial, sans-serif">Absorber Layer Thickness (&#956;m)</text>
<text class="ttl" transform="translate(335.0,351.0) scale(1,1.05)" font-size="10.2" font-weight="bold" fill="#111" font-family="'Liberation Sans', Arial, sans-serif">Acceptor Carrier Concentration N<tspan font-size="7">A</tspan> (cm<tspan font-size="5.6" dy="-4.6" dx="0.2">&#8722;3</tspan><tspan dy="4.6" dx="0.1">)</tspan></text>
<text x="118.0" y="373.5" font-size="11.5" fill="#111" class="serif" font-family="'Liberation Serif', 'Times New Roman', serif">(<tspan class="b" font-weight="bold" font-size="10.6" dx="0.2">a</tspan><tspan dx="0.4">)</tspan></text>
<text x="419.5" y="373.5" font-size="11.5" fill="#111" class="serif" font-family="'Liberation Serif', 'Times New Roman', serif">(<tspan class="b" font-weight="bold" font-size="11.2" dx="0.2">b</tspan><tspan dx="0.5">)</tspan></text>
</svg>
</body></html>
